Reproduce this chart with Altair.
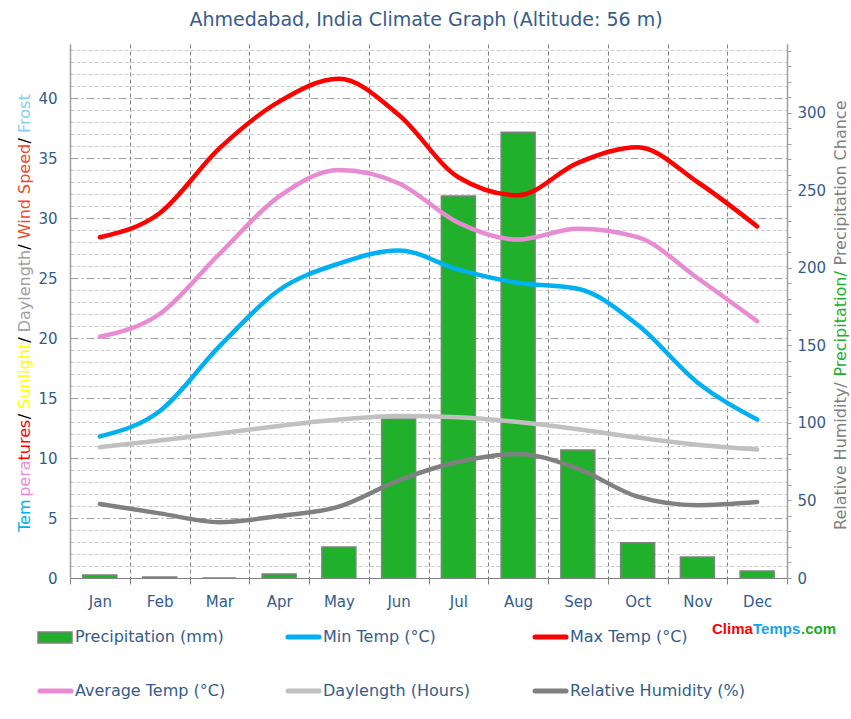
import altair as alt
import pandas as pd

# ---- monthly climate values -------------------------------------------
months = ["Jan", "Feb", "Mar", "Apr", "May", "Jun",
          "Jul", "Aug", "Sep", "Oct", "Nov", "Dec"]
precip_mm = [2.0, 0.7, 0.0, 2.6, 20.0, 102.5, 246.5, 287.5, 82.5, 22.8, 13.5, 4.5]
min_temp = [11.8, 13.9, 19.3, 24.0, 26.2, 27.3, 25.7, 24.6, 24.1, 21.1, 16.3, 13.2]
max_temp = [28.4, 30.4, 35.8, 39.7, 41.6, 38.6, 33.4, 31.9, 34.6, 35.9, 33.0, 29.3]
avg_temp = [20.1, 22.0, 27.0, 31.8, 34.0, 32.9, 29.6, 28.2, 29.1, 28.4, 25.0, 21.4]
daylength_h = [10.9, 11.45, 12.05, 12.67, 13.2, 13.5, 13.4, 13.0, 12.4, 11.7, 11.1, 10.7]
humidity_pct = [47.7, 41.7, 36.0, 40.0, 46.0, 63.0, 75.0, 80.0, 70.5, 52.5, 47.0, 49.0]

# ---- text --------------------------------------------------------------
title_text = "Ahmedabad, India Climate Graph (Altitude: 56 m)"
left_title_parts = ["Tem", "pera", "tures", "/ ", "Sunlight", "/ ", "Daylength", "/ ",
                    "Wind Speed", "/ ", "Frost"]
right_title_parts = ["Relative Humidity/ ", "Precipitation/ ", "Precipitation Chance"]
legend_labels = ["Precipitation (mm)", "Min Temp (°C)", "Max Temp (°C)",
                 "Average Temp (°C)", "Daylength (Hours)", "Relative Humidity (%)"]
brand_parts = ["Clima", "Temps", ".com"]

# ---- style -------------------------------------------------------------
FONT = "DejaVu Sans"
TXT = "#355c8c"
GREEN = "#21b02b"
C_MIN, C_MAX, C_AVG = "#00b0f0", "#ff0000", "#e88bd3"
C_DAY, C_HUM = "#c0c0c0", "#808080"
W, H = 717, 534

# advance widths (em) of DejaVu Sans, used to chain coloured title pieces
EM = {" ": .318, "/": .337, "C": .698, "D": .770, "F": .575, "H": .752, "P": .603,
      "R": .695, "S": .635, "T": .611, "W": .989, "a": .613, "c": .550, "d": .635,
      "e": .615, "g": .635, "h": .634, "i": .278, "l": .278, "m": .974, "n": .634,
      "o": .612, "p": .635, "r": .411, "s": .521, "t": .392, "u": .634, "v": .592,
      "y": .592}


def text_width(s, size):
    return sum(EM.get(ch, 0.6) for ch in s) * size


df = pd.DataFrame({
    "month": months,
    "precip": precip_mm,
    "Min Temp": min_temp,
    "Max Temp": max_temp,
    "Average Temp": avg_temp,
    "Daylength": daylength_h,
    "humidity": humidity_pct,
})

x_enc = alt.X(
    "month:N", sort=months,
    scale=alt.Scale(type="band", domain=months, paddingInner=0, paddingOuter=0),
    axis=alt.Axis(title=None, tickBand="extent", grid=True, gridDash=[4, 3],
                  gridColor="#808080", gridWidth=1, domainColor="#808080",
                  tickColor="#808080", tickSize=6, labelAngle=0, labelFont=FONT,
                  labelFontSize=15, labelColor=TXT, labelPadding=10),
)

right_scale = alt.Scale(domain=[0, 344.5], nice=False, zero=True)
right_axis = alt.Axis(
    orient="right", title=None, values=list(range(0, 341, 10)),
    labelExpr="datum.value % 50 === 0 ? datum.label : ''",
    labelOverlap=False, labelFlush=False, grid=False, tickSize=4,
    tickColor="#a0a0a0", domainColor="#a0a0a0", domainWidth=1.5,
    labelFont=FONT, labelFontSize=15, labelColor=TXT, labelPadding=6,
)

left_scale = alt.Scale(domain=[0, 44.5], nice=False, zero=True)
left_axis = alt.Axis(
    orient="left", title=None, values=list(range(0, 45)),
    labelExpr="datum.value % 5 === 0 ? datum.label : ''",
    labelOverlap=False, labelFlush=False, grid=True, gridWidth=1,
    gridColor={"condition": {"test": "datum.value % 5 === 0", "value": "#a0a0a0"},
               "value": "#cccccc"},
    gridDash={"condition": {"test": "datum.value % 5 === 0", "value": [8, 3, 2, 3]},
              "value": [4, 2]},
    tickSize=0, domainColor="#a0a0a0", domainWidth=1.5,
    labelFont=FONT, labelFontSize=15, labelColor=TXT, labelPadding=13,
)

bars = alt.Chart(df).mark_bar(size=34, color=GREEN, stroke="#808080", strokeWidth=1.5).encode(
    x=x_enc, y=alt.Y("precip:Q", scale=right_scale, axis=right_axis)
)
humid = alt.Chart(df).mark_line(color=C_HUM, strokeWidth=4.5, interpolate="monotone",
                                strokeCap="round").encode(
    x=x_enc, y=alt.Y("humidity:Q", scale=right_scale, axis=right_axis)
)

series = ["Daylength", "Min Temp", "Average Temp", "Max Temp"]
lines = alt.Chart(df).transform_fold(series, as_=["series", "val"]).mark_line(
    interpolate="monotone", strokeCap="round"
).encode(
    x=x_enc,
    y=alt.Y("val:Q", scale=left_scale, axis=left_axis),
    color=alt.Color("series:N", scale=alt.Scale(domain=series,
                    range=[C_DAY, C_MIN, C_AVG, C_MAX]), legend=None),
    strokeWidth=alt.StrokeWidth("series:N", scale=alt.Scale(domain=series,
                                range=[4.5, 4.5, 4.5, 5]), legend=None),
    detail="series:N",
)


def text_at(t, x, y, color, size=16, angle=0, weight="normal", font=FONT, align="left"):
    return alt.Chart(pd.DataFrame({"t": [t]})).mark_text(
        align=align, baseline="middle", angle=angle, fontSize=size, font=font,
        color=color, fontWeight=weight
    ).encode(text="t:N", x=alt.value(x), y=alt.value(y))


def swatch_line(x1, x2, y, color):
    return alt.Chart(pd.DataFrame({"k": [0]})).mark_rule(
        color=color, strokeWidth=5, strokeCap="round"
    ).encode(x=alt.value(x1), x2=alt.value(x2), y=alt.value(y))


def vertical_title(parts, colors, x, y_start, size):
    out = []
    y = y_start
    for part, col in zip(parts, colors):
        out.append(text_at(part, x, y, col, size=size, angle=270))
        y -= text_width(part, size)
    return out


extras = []
# chart title
extras.append(text_at(title_text, 356, -24, TXT, size=19, align="center"))

# multi-coloured vertical axis titles
left_colors = [C_MIN, C_AVG, C_MAX, "#000000", "#ffff00", "#000000", "#a0a0a0",
               "#000000", "#f04a2a", "#000000", "#87ceeb"]
extras += vertical_title(left_title_parts, left_colors, -45, 488, 16)

right_colors = ["#808080", GREEN, "#808080"]
extras += vertical_title(right_title_parts, right_colors, 771, 486, 16)

# legend below the plot
row_y = [593, 647]
col_x = [-32, 216, 463]
extras.append(alt.Chart(pd.DataFrame({"k": [0]})).mark_rect(
    color=GREEN, stroke="#808080", strokeWidth=1.5
).encode(x=alt.value(col_x[0]), x2=alt.value(col_x[0] + 34),
         y=alt.value(row_y[0] - 5), y2=alt.value(row_y[0] + 6)))
legend_colors = [None, C_MIN, C_MAX, C_AVG, C_DAY, C_HUM]
for i, (lab, col) in enumerate(zip(legend_labels, legend_colors)):
    cx = col_x[i % 3]
    cy = row_y[i // 3]
    if col is not None:
        extras.append(swatch_line(cx + 2, cx + 33, cy, col))
    extras.append(text_at(lab, cx + 37, cy, TXT, size=16))

# site mark
brand_colors = ["#ff0000", "#12a4ea", "#22aa22"]
brand_x = [642, 683, 731]
for part, col, bx in zip(brand_parts, brand_colors, brand_x):
    extras.append(text_at(part, bx, 585, col, size=15, weight="bold",
                          font="Liberation Sans"))

chart = alt.layer(
    alt.layer(bars, humid),
    lines,
    *extras,
).resolve_scale(y="independent").properties(
    width=W, height=H,
    padding={"left": 70, "top": 44, "right": 64, "bottom": 141},
    autosize=alt.AutoSizeParams(type="none"),
    background="white",
).configure_view(stroke=None)

chart.save("out.html", embed_options={"renderer": "svg", "actions": False})
